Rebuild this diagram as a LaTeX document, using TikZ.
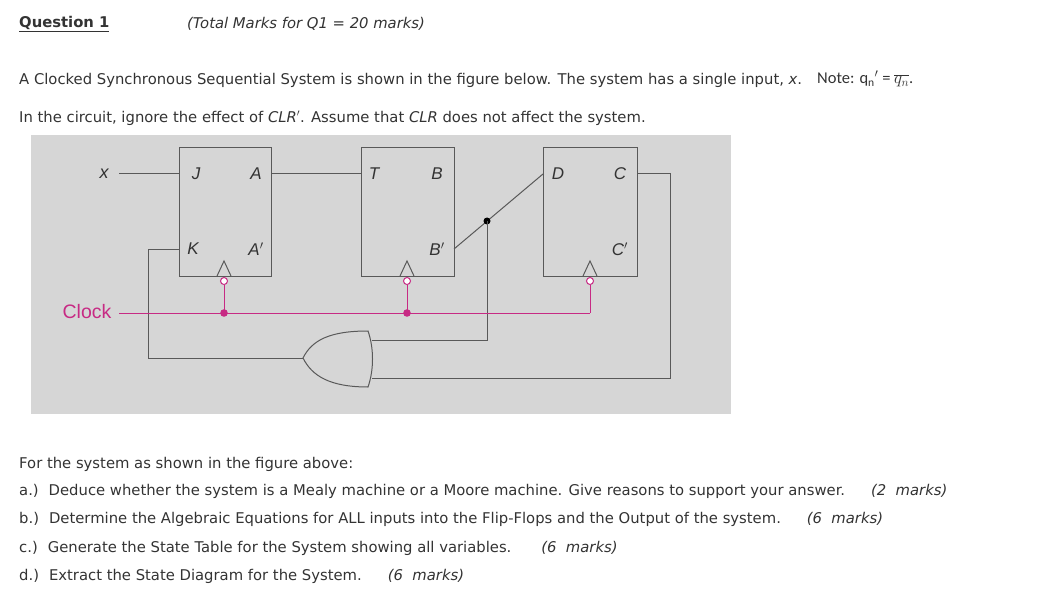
\documentclass[tikz,border=0pt]{standalone}
\usepackage{fontspec}
\setmainfont{DejaVu Sans}
\newfontfamily\circfont{Liberation Sans}
\newfontfamily\notef{Carlito}
\begin{document}
\begin{tikzpicture}[x=1pt,y=-1pt,
  txt/.style={anchor=west,inner sep=0,text=black!80,font=\fontsize{14.8}{16}\selectfont},
  lab/.style={inner sep=0,text=black!80,font=\circfont\itshape\fontsize{17}{18}\selectfont},
  wire/.style={draw=black!65,line width=1pt},
  clk/.style={draw=magenta!80!black,line width=1pt},
  ff/.style={draw=black!65,line width=1pt,fill=black!16}]
\useasboundingbox (0,0) rectangle (1049,596);
\node[txt,font=\bfseries\fontsize{14.8}{16}\selectfont] (q) at (19,24) {\underline{Question 1}};
\node[txt] (tm) at (187,24) {\itshape (Total Marks for Q1 = 20 marks)};
\node[txt] (l1) at (19,80) {A Clocked Synchronous Sequential System is shown in the figure below. The system has a single input, \textit{x}.};
\node[txt,font=\notef\fontsize{16.5}{18}\selectfont] (nt) at (817,79) {Note: q\textsubscript{n}$'$ = $\overline{q_n}$.};
\node[txt] (l2) at (19,118) {In the circuit, ignore the effect of \textit{CLR$'$}. Assume that \textit{CLR} does not affect the system.};
\fill[black!16] (31,135) rectangle (731,414);
% flip-flops
\node[ff,minimum width=92,minimum height=129,anchor=north west] (f1) at (179,147) {};
\node[ff,minimum width=93,minimum height=129,anchor=north west] (f2) at (361,147) {};
\node[ff,minimum width=94,minimum height=129,anchor=north west] (f3) at (543,147) {};
\node[lab] (J) at (196,174) {J};
\node[lab] (A) at (256,174) {A};
\node[lab] (K) at (193,249) {K};
\node[lab] (Ap) at (256,249) {A$'$};
\node[lab] (T) at (374,174) {T};
\node[lab] (B) at (437,174) {B};
\node[lab] (Bp) at (437,249) {B$'$};
\node[lab] (D) at (558,174) {D};
\node[lab] (C) at (620,174) {C};
\node[lab] (Cp) at (620,249) {C$'$};
\node[lab,font=\circfont\itshape\fontsize{18}{19}\selectfont] (x) at (104,174) {x};
\node[lab,text=magenta!80!black,font=\circfont\fontsize{19.5}{21}\selectfont] (clock) at (87,312) {Clock};
% coordinates
\coordinate (jin) at (179,174); \coordinate (kin) at (179,249);
\coordinate (aout) at (271,174); \coordinate (tin) at (361,174);
\coordinate (bpout) at (454,249); \coordinate (din) at (543,174);
\coordinate (cout) at (637,174);
\coordinate (dot) at (487,221);
\coordinate (orA) at (372,340); \coordinate (orB) at (372,378); \coordinate (orO) at (303,358);
\draw[wire] (119,174) -- (jin);
\draw[wire] (aout) -- (tin);
\draw[wire] (bpout) -- (din);
\fill[black] (dot) circle (3.5);
\draw[wire] (dot) |- (orA);
\draw[wire] (cout) -- (670,174) |- (orB);
\draw[wire] (kin) -- (148,249) |- (orO);
% OR gate (facing left)
\draw[wire,fill=black!16] (368,331) .. controls (330,331) and (312,340) .. (orO)
  .. controls (312,376) and (330,387) .. (368,387)
  .. controls (374,370) and (374,348) .. cycle;
% clock
\draw[clk] (119,313) -- (590,313);
\foreach \cx in {224,407,590}{
  \draw[clk] (\cx,313) -- (\cx,284.5);
  \draw[clk,fill=white] (\cx,281) circle (3.5);
  \draw[wire] (\cx-7,276) -- (\cx,261) -- (\cx+7,276);
}
\fill[magenta!80!black] (224,313) circle (3.8);
\fill[magenta!80!black] (407,313) circle (3.8);
% bottom text
\node[txt] (p0) at (19,464) {For the system as shown in the figure above:};
\node[txt] (pa) at (19,491) {a.)\hspace{10pt}Deduce whether the system is a Mealy machine or a Moore machine. Give reasons to support your answer.\hspace{26pt}\textit{(2\ \ marks)}};
\node[txt] (pb) at (19,519) {b.)\hspace{10pt}Determine the Algebraic Equations for ALL inputs into the Flip-Flops and the Output of the system.\hspace{26pt}\textit{(6\ \ marks)}};
\node[txt] (pc) at (19,548) {c.)\hspace{10pt}Generate the State Table for the System showing all variables.\hspace{30pt}\textit{(6\ \ marks)}};
\node[txt] (pd) at (19,576) {d.)\hspace{10pt}Extract the State Diagram for the System.\hspace{26pt}\textit{(6\ \ marks)}};
\end{tikzpicture}
\end{document}
